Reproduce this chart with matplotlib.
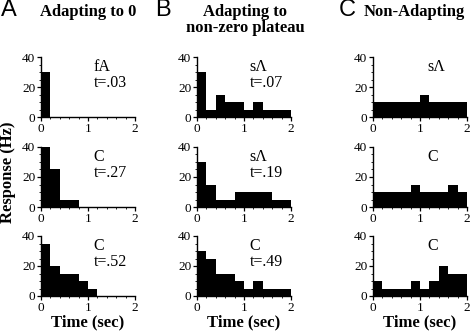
import numpy as np
import matplotlib.pyplot as plt
from matplotlib.ticker import MultipleLocator

# bin start times (sec), 0.2 s bins
bins = [0.0, 0.2, 0.4, 0.6, 0.8, 1.0, 1.2, 1.4, 1.6, 1.8]

# column A: adapting to 0
a_fa_03 = [30, 0, 0, 0, 0, 0, 0, 0, 0, 0]
a_c_27 = [40, 25, 5, 5, 0, 0, 0, 0, 0, 0]
a_c_52 = [35, 20, 15, 15, 10, 5, 0, 0, 0, 0]

# column B: adapting to non-zero plateau
b_sa_07 = [30, 5, 15, 10, 10, 5, 10, 5, 5, 5]
b_sa_19 = [30, 15, 5, 5, 10, 10, 10, 10, 5, 5]
b_c_49 = [30, 25, 15, 15, 10, 5, 10, 5, 5, 5]

# column C: non-adapting
c_sa = [10, 10, 10, 10, 10, 15, 10, 10, 10, 10]
c_c1 = [10, 10, 10, 10, 15, 10, 10, 10, 15, 10]
c_c2 = [10, 5, 5, 5, 10, 5, 10, 20, 15, 15]

panels = [
    [(a_fa_03, "fA\nt=.03"), (a_c_27, "C\nt=.27"), (a_c_52, "C\nt=.52")],
    [(b_sa_07, "s\u039b\nt=.07"), (b_sa_19, "s\u039b\nt=.19"), (b_c_49, "C\nt=.49")],
    [(c_sa, "s\u039b"), (c_c1, "C"), (c_c2, "C")],
]

col_titles = ["Adapting to 0", "Adapting to\nnon-zero plateau", "Non-Adapting"]
col_letters = ["A", "B", "C"]

plt.rcParams['font.family'] = ['Liberation Serif', 'DejaVu Serif']

W, H = 474, 333
dpi = 100
fig = plt.figure(figsize=(W / dpi, H / dpi), dpi=dpi)

lefts = [41, 197, 373]
width = 94
bottoms = [117, 207, 296]
height = 60

for ci in range(3):
    for ri in range(3):
        vals, label = panels[ci][ri]
        ax = fig.add_axes([lefts[ci] / W, 1 - bottoms[ri] / H, width / W, height / H])
        ax.bar(bins, vals, width=0.2, align='edge', color='black', linewidth=0)
        ax.set_xlim(0, 2)
        ax.set_ylim(0, 40)
        ax.spines['top'].set_visible(False)
        ax.spines['right'].set_visible(False)
        ax.spines['left'].set_linewidth(1.0)
        ax.spines['bottom'].set_linewidth(1.0)
        ax.set_xticks([0, 1, 2])
        ax.set_yticks([0, 20, 40])
        ax.xaxis.set_minor_locator(MultipleLocator(0.2))
        ax.yaxis.set_minor_locator(MultipleLocator(5))
        ax.tick_params(which='major', direction='out', length=3, width=0.9,
                       labelsize=9.5, pad=1)
        ax.tick_params(which='minor', direction='out', length=1.5, width=0.6)
        ax.set_facecolor('none')
        ax.text(1.12 if ci < 2 else 1.15, 38.5, label, fontsize=11.5,
                va='top', ha='left', linespacing=1.0)

# column headers
title_x = [88, 245, 414]
for ci in range(3):
    ty = 12 if ci != 1 else 20
    fig.text(title_x[ci] / W, 1 - ty / H, col_titles[ci], fontsize=12,
             fontweight='bold', ha='center', va='center', linespacing=1.05)
    fig.text(lefts[ci] / W + width / W / 2, 1 - 322 / H, "Time (sec)",
             fontsize=12, fontweight='bold', ha='center', va='center')

letter_x = [1, 155, 339]
for ci in range(3):
    fig.text(letter_x[ci] / W, 1 - 10 / H, col_letters[ci], fontsize=17,
             family='Liberation Sans', ha='left', va='center')

fig.text(8 / W, 1 - 172 / H, "Response (Hz)", rotation=90, fontsize=12,
         fontweight='bold', ha='center', va='center')

fig.savefig('out.png', dpi=dpi, facecolor='white')
